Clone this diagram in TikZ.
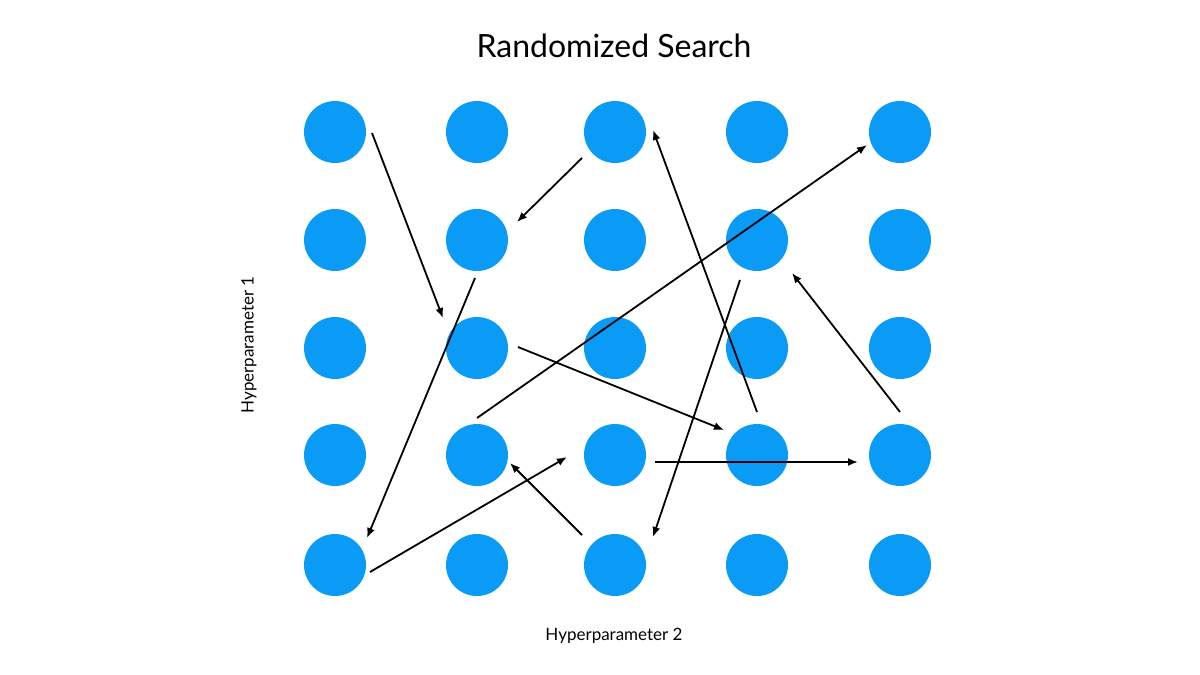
\documentclass[tikz,border=0pt]{standalone}
\usepackage{fontspec}
\setmainfont{Lato}
\usetikzlibrary{arrows.meta}
\definecolor{dotblue}{HTML}{0A9BF6}
\begin{document}
\begin{tikzpicture}[x=1pt,y=-1pt,
  dot/.style={circle,fill=dotblue,minimum size=62pt,inner sep=0pt},
  arr/.style={-{Latex[length=10pt,width=8pt]},line width=1.8pt,black}]
\useasboundingbox (0,0) rectangle (1200,675);
\node[font=\fontsize{32}{38}\selectfont] (title) at (614,46) {Randomized Search};
\node[font=\fontsize{17}{20}\selectfont] (xl) at (614,636) {Hyperparameter 2};
\node[font=\fontsize{17}{20}\selectfont,rotate=90] (yl) at (249,345) {Hyperparameter 1};
\foreach \x [count=\i] in {335,477,615,757,900}
  \foreach \y [count=\j] in {132,240,348,455,565}
    \node[dot] (c\i\j) at (\x,\y) {};
\coordinate (a1) at (372,133); \coordinate (b1) at (443,318);
\coordinate (a2) at (582,158); \coordinate (b2) at (517,222);
\coordinate (a3) at (475,278); \coordinate (b3) at (367,538);
\coordinate (a4) at (518,347); \coordinate (b4) at (724,430);
\coordinate (a5) at (477,418); \coordinate (b5) at (867,145);
\coordinate (a6) at (757,412); \coordinate (b6) at (653,130);
\coordinate (a7) at (740,280); \coordinate (b7) at (653,537);
\coordinate (a8) at (900,412); \coordinate (b8) at (792,273);
\coordinate (a9) at (655,462); \coordinate (b9) at (858,462);
\coordinate (a10) at (582,535); \coordinate (b10) at (510,463);
\coordinate (a11) at (370,572); \coordinate (b11) at (567,457);
\foreach \k in {1,...,11} \draw[arr] (a\k) -- (b\k);
\end{tikzpicture}
\end{document}
